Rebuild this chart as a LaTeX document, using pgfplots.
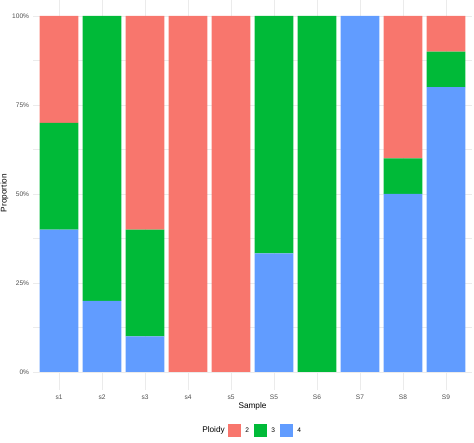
\documentclass[border=0pt]{standalone}
\usepackage{pgfplots}
\pgfplotsset{compat=1.18}
\usepackage{pgfplotstable}
\usepackage{fontspec}
\setmainfont{Liberation Sans}
\definecolor{cA}{HTML}{F8766D}
\definecolor{cB}{HTML}{00BA38}
\definecolor{cC}{HTML}{619CFF}
\definecolor{gridc}{HTML}{EBEBEB}
\definecolor{tickc}{HTML}{4D4D4D}
\pgfplotstableread{
x four three two
1 0.4 0.3 0.3
2 0.2 0.8 0
3 0.1 0.3 0.6
4 0 0 1
5 0 0 1
6 0.3333 0.6667 0
7 0 1 0
8 1 0 0
9 0.5 0.1 0.4
10 0.8 0.1 0.1
}\datatab
\begin{document}
\begin{tikzpicture}[x=1pt,y=1pt]
\begin{axis}[
  at={(33.2pt,53.2pt)}, anchor=south west,
  scale only axis, width=438.6pt, height=391.6pt,
  xmin=0.4, xmax=10.6, ymin=-0.05, ymax=1.05,
  ybar stacked, bar width=0.9,
  xtick={1,...,10},
  xticklabels={s1,s2,s3,s4,s5,S5,S6,S7,S8,S9},
  ytick={0,0.25,0.5,0.75,1},
  yticklabels={0\%,25\%,50\%,75\%,100\%},
  minor ytick={0.125,0.375,0.625,0.875},
  grid=both,
  major grid style={draw=gridc, line width=0.9pt},
  minor grid style={draw=gridc, line width=0.45pt},
  axis line style={draw=none},
  tick style={draw=none},
  xticklabel style={font=\fontsize{6.6}{7}\selectfont, text=tickc, anchor=center, inner sep=0pt, yshift=-7.4pt},
  yticklabel style={font=\fontsize{6.6}{7}\selectfont, text=tickc, anchor=east, inner sep=0pt, xshift=-3.9pt},
  legend columns=-1,
  legend style={at={(axis description cs:0.4441,-0.1044)}, anchor=west, draw=none, fill=none,
    font=\fontsize{6.6}{7}\selectfont, inner sep=0pt,
    /tikz/every even column/.append style={column sep=3pt}},
  legend cell align=left,
  legend image code/.code={\fill[#1] (0pt,-6.2pt) rectangle (12.7pt,6.2pt); \path (15.3pt,0pt);},
]
\addlegendimage{fill=cA, draw=none}
\addlegendentry{2}
\addlegendimage{fill=cB, draw=none}
\addlegendentry{3}
\addlegendimage{fill=cC, draw=none}
\addlegendentry{4}
\addplot[fill=cC, draw=none, forget plot] table[x=x, y=four] {\datatab};
\addplot[fill=cB, draw=none, forget plot] table[x=x, y=three] {\datatab};
\addplot[fill=cA, draw=none, forget plot] table[x=x, y=two] {\datatab};
\end{axis}
\node[font=\fontsize{8.25}{9}\selectfont] at (252.5pt,36.3pt) {Sample};
\node[font=\fontsize{8.25}{9}\selectfont, rotate=90] at (4.5pt,250pt) {Proportion};
\node[font=\fontsize{8.25}{9}\selectfont] at (213.5pt,12.3pt) {Ploidy};
\pgfresetboundingbox
\useasboundingbox (0pt,0pt) rectangle (474pt,443pt);
\end{tikzpicture}
\end{document}
